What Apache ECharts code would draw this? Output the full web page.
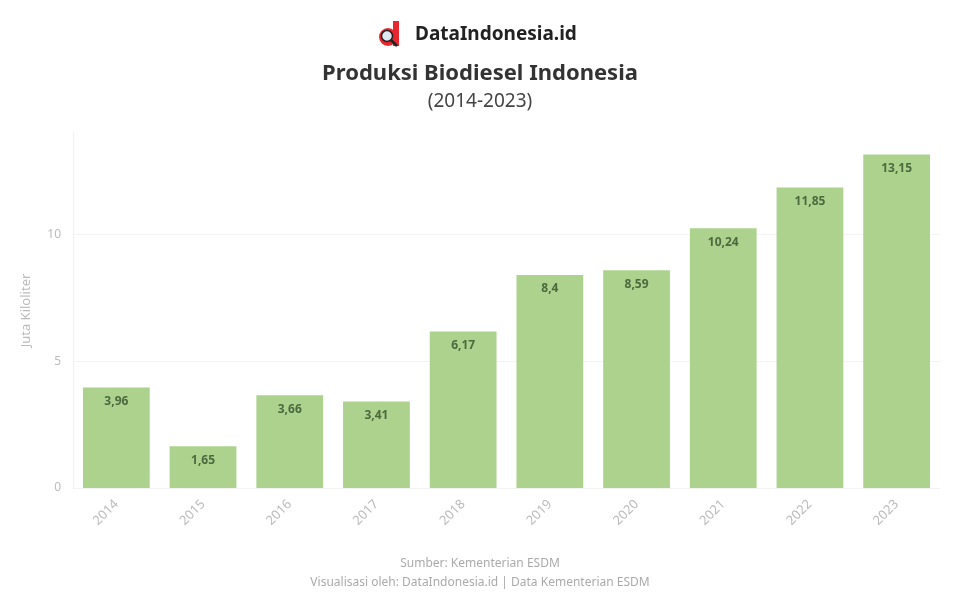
<!DOCTYPE html>
<html>
<head>
<meta charset="utf-8">
<script src="https://cdn.jsdelivr.net/npm/echarts@6/dist/echarts.min.js"></script>
<style>html,body{margin:0;padding:0;background:#fff}#c{width:960px;height:600px}</style>
</head>
<body>
<div id="c"></div>
<script>
const years = ['2014','2015','2016','2017','2018','2019','2020','2021','2022','2023'];
const produksi = [3.96, 1.65, 3.66, 3.41, 6.17, 8.4, 8.59, 10.24, 11.85, 13.15];
const yTicks = [0, 5, 10];
const titleText = 'Produksi Biodiesel Indonesia';
const subtitleText = '(2014-2023)';
const yName = 'Juta Kiloliter';
const sourceLine1 = 'Sumber: Kementerian ESDM';
const sourceLine2 = 'Visualisasi oleh: DataIndonesia.id | Data Kementerian ESDM';

const chart = echarts.init(document.getElementById('c'));
const font = '"Noto Sans", "Open Sans", sans-serif';
chart.setOption({
  backgroundColor: '#fff',
  textStyle: { fontFamily: font },
  title: [
    { text: titleText, left: 'center', top: 58, textStyle: { fontSize: 22, fontWeight: 'bold', color: '#333', fontFamily: font } },
    { text: subtitleText, left: 'center', top: 87, textStyle: { fontSize: 19, fontWeight: 'normal', color: '#444', fontFamily: font } },
    { text: sourceLine1, left: 'center', top: 553, textStyle: { fontSize: 12, fontWeight: 'normal', color: '#aaa', fontFamily: font } },
    { text: sourceLine2, left: 'center', top: 572, textStyle: { fontSize: 12, fontWeight: 'normal', color: '#aaa', fontFamily: font } }
  ],
  graphic: [
    { type: 'circle', shape: { cx: 388, cy: 37, r: 9 }, style: { fill: '#e8262d' } },
    { type: 'rect', shape: { x: 393, y: 21, width: 6, height: 25 }, style: { fill: '#e8262d' } },
    { type: 'line', shape: { x1: 391, y1: 40, x2: 397, y2: 46 }, style: { stroke: '#222', lineWidth: 2.5 } },
    { type: 'circle', shape: { cx: 387, cy: 36, r: 5.5 }, style: { fill: '#dfe8f0', stroke: '#222', lineWidth: 1.5 } },
    { type: 'text', style: { x: 415, y: 35, text: 'DataIndonesia.id', fontSize: 19, fontWeight: 'bold', fill: '#222', fontFamily: font, verticalAlign: 'middle' } }
  ],
  grid: { left: 73, right: 20, top: 133, bottom: 112, containLabel: false },
  xAxis: {
    type: 'category',
    data: years,
    axisLine: { show: false },
    axisTick: { show: false },
    axisLabel: { rotate: 45, color: '#bbb', fontSize: 13, margin: 14 }
  },
  yAxis: {
    type: 'value',
    min: 0, max: 14, interval: 5,
    name: yName,
    nameLocation: 'middle',
    nameGap: 40,
    nameTextStyle: { color: '#bbb', fontSize: 13 },
    axisLine: { show: true, lineStyle: { color: '#f0f0f0' } },
    axisTick: { show: false },
    axisLabel: { color: '#bbb', fontSize: 12, showMaxLabel: false, margin: 12,
      formatter: v => yTicks.includes(v) ? String(v) : '' },
    splitLine: { lineStyle: { color: ['#f3f3f3', '#f3f3f3', '#f3f3f3', 'rgba(0,0,0,0)'] } }
  },
  series: [{
    type: 'bar',
    data: produksi,
    barCategoryGap: '23%',
    itemStyle: { color: '#acd28e' },
    label: {
      show: true, position: 'insideTop', distance: 8,
      color: '#4d6a3e', fontSize: 12, fontWeight: 'bold',
      formatter: p => String(p.value).replace('.', ',')
    }
  }]
});
</script>
</body>
</html>
